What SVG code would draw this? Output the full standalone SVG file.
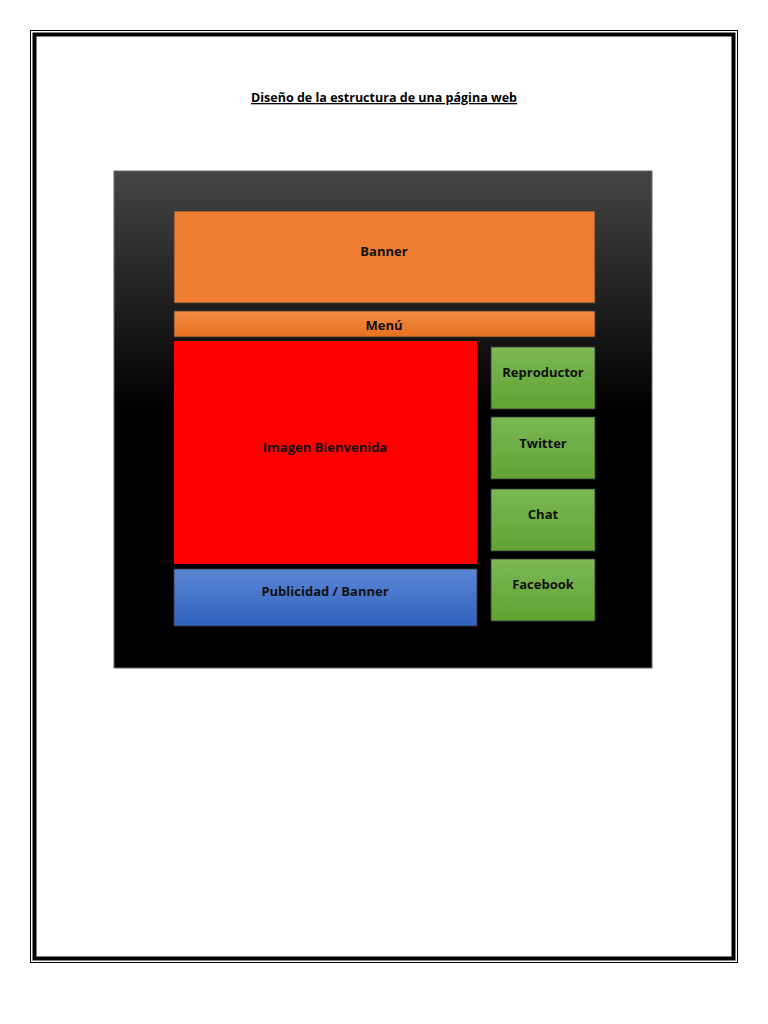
<svg xmlns="http://www.w3.org/2000/svg" width="768" height="1024" viewBox="0 0 768 1024">
<defs>
<linearGradient id="bg" x1="0" y1="0" x2="0" y2="1">
<stop offset="0" stop-color="#454545"/>
<stop offset="0.48" stop-color="#000"/>
<stop offset="1" stop-color="#000"/>
</linearGradient>
<linearGradient id="menu" x1="0" y1="0" x2="0" y2="1">
<stop offset="0" stop-color="#F08A45"/>
<stop offset="1" stop-color="#E8701E"/>
</linearGradient>
<linearGradient id="blue" x1="0" y1="0" x2="0" y2="1">
<stop offset="0" stop-color="#5B86D4"/>
<stop offset="1" stop-color="#2F62BE"/>
</linearGradient>
<linearGradient id="green" x1="0" y1="0" x2="0" y2="1">
<stop offset="0" stop-color="#7CB855"/>
<stop offset="1" stop-color="#5FA333"/>
</linearGradient>
</defs>
<style>
.lbl{font-family:"Open Sans","Liberation Sans",sans-serif;font-weight:bold;font-size:13px;fill:#111;text-anchor:middle}
.box{stroke:#3a3a3a;stroke-width:0.8}
</style>
<rect width="768" height="1024" fill="#fff"/>
<rect x="30.5" y="30.5" width="707" height="932" fill="none" stroke="#000" stroke-width="1"/>
<rect x="34.5" y="34.5" width="699" height="924" fill="none" stroke="#000" stroke-width="4"/>
<text x="384" y="102" font-family="Open Sans, Liberation Sans, sans-serif" font-weight="bold" font-size="13" fill="#000" text-anchor="middle" text-decoration="underline" textLength="266" lengthAdjust="spacingAndGlyphs">Diseño de la estructura de una página web</text>
<rect x="114" y="171" width="538" height="497" fill="url(#bg)" stroke="#666" stroke-width="1"/>
<g id="banner"><rect class="box" x="174" y="211" width="421" height="92" fill="#ED7D31"/><text class="lbl" x="384" y="256">Banner</text></g>
<g id="menu-node"><rect class="box" x="174" y="311" width="421" height="26" fill="url(#menu)"/><text class="lbl" x="384" y="330">Menú</text></g>
<g id="imagen"><rect x="174" y="341" width="303" height="223" fill="#FF0000"/><text class="lbl" x="325" y="452">Imagen Bienvenida</text></g>
<g id="publicidad"><rect class="box" x="174" y="569" width="303" height="57" fill="url(#blue)"/><text class="lbl" x="325" y="596">Publicidad / Banner</text></g>
<g id="reproductor"><rect class="box" x="491" y="347" width="104" height="62" fill="url(#green)"/><text class="lbl" x="543" y="377">Reproductor</text></g>
<g id="twitter"><rect class="box" x="491" y="417" width="104" height="62" fill="url(#green)"/><text class="lbl" x="543" y="448">Twitter</text></g>
<g id="chat"><rect class="box" x="491" y="489" width="104" height="62" fill="url(#green)"/><text class="lbl" x="543" y="519">Chat</text></g>
<g id="facebook"><rect class="box" x="491" y="559" width="104" height="62" fill="url(#green)"/><text class="lbl" x="543" y="589">Facebook</text></g>
<g id="connectors"/>
</svg>
